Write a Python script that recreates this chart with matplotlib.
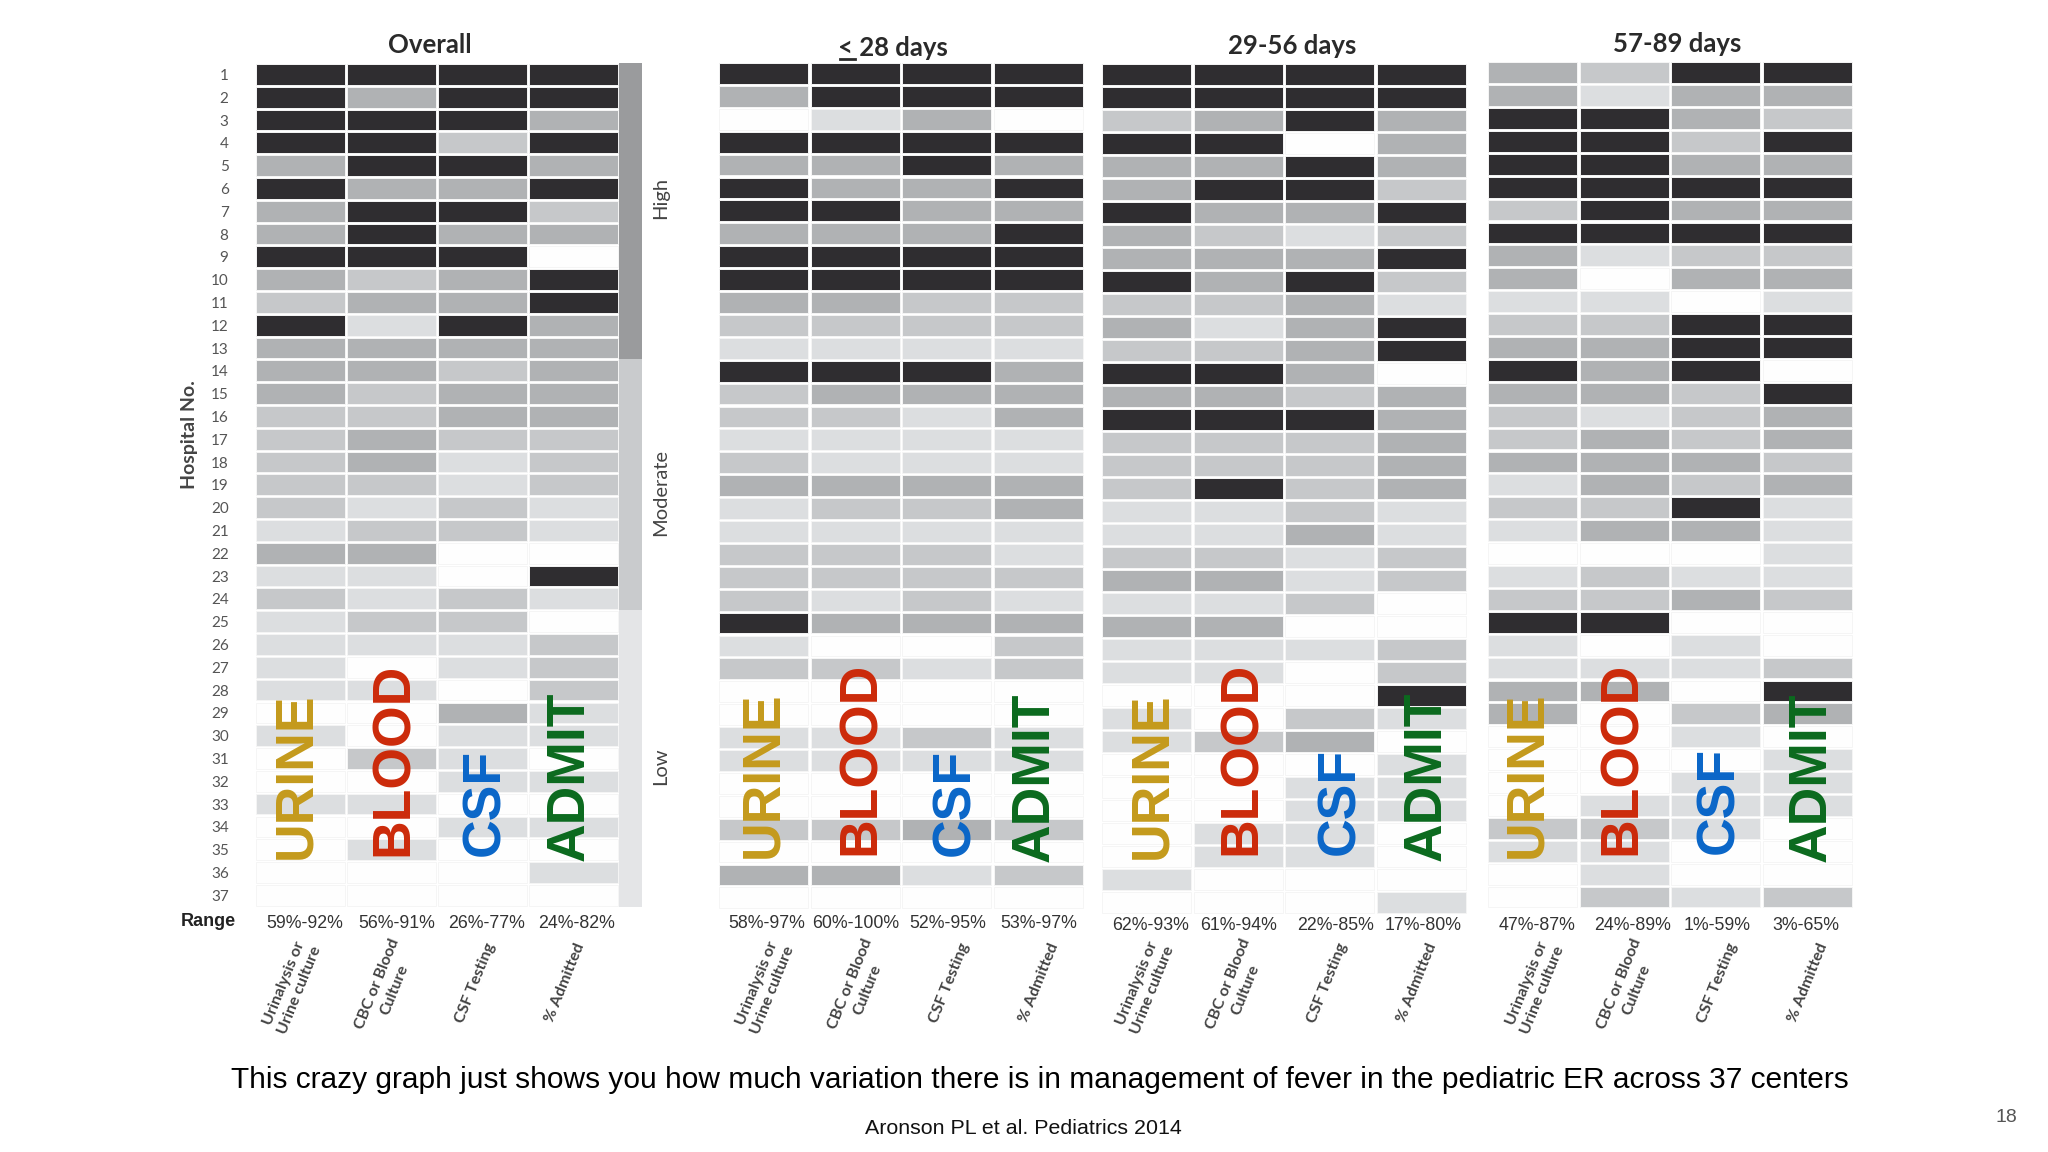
#Variation in fever management across 37 pediatric ERs - shaded tables
import numpy as np
import matplotlib.pyplot as plt
from matplotlib.lines import Line2D

W, H = 2048, 1152

hospitals = list(range(1, 38))
# shade level per hospital: urine, blood, csf, admit (0 = white ... 4 = near black)
overall = [[4,4,4,4],[4,3,4,4],[4,4,4,3],[4,4,2,4],[3,4,4,3],[4,3,3,4],[3,4,4,2],[3,4,3,3],[4,4,4,0],[3,2,3,4],
           [2,3,3,4],[4,1,4,3],[3,3,3,3],[3,3,2,3],[3,2,3,3],[2,2,3,3],[2,3,2,2],[2,3,1,2],[2,2,1,2],[2,1,2,1],
           [1,2,2,1],[3,3,0,0],[1,1,0,4],[2,1,2,1],[1,2,2,0],[1,1,1,2],[1,0,1,2],[1,1,0,2],[0,0,3,1],[1,0,1,1],
           [0,2,1,0],[0,0,1,1],[1,1,0,0],[0,0,1,1],[0,1,0,0],[0,0,0,1],[0,0,0,0]]
under_28 = [[4,4,4,4],[3,4,4,4],[0,1,3,0],[4,4,4,4],[3,3,4,3],[4,3,3,4],[4,4,3,3],[3,3,3,4],[4,4,4,4],[4,4,4,4],
            [3,3,2,2],[2,2,2,2],[1,1,1,1],[4,4,4,3],[2,3,3,3],[2,2,1,3],[1,1,1,1],[2,1,1,1],[3,3,3,3],[1,2,2,3],
            [1,1,1,1],[2,2,2,1],[2,2,2,2],[2,1,2,1],[4,3,3,3],[1,0,0,2],[2,2,1,2],[0,0,0,0],[0,0,0,0],[1,1,2,1],
            [1,1,1,1],[0,0,0,0],[0,0,0,0],[2,2,3,2],[0,0,0,0],[3,3,1,2],[0,0,0,0]]
days_29_56 = [[4,4,4,4],[4,4,4,4],[2,3,4,3],[4,4,0,3],[3,3,4,3],[3,4,4,2],[4,3,3,4],[3,2,1,2],[3,3,3,4],[4,3,4,2],
              [2,2,3,1],[3,1,3,4],[2,2,3,4],[4,4,3,0],[3,3,2,3],[4,4,4,3],[2,2,2,3],[2,2,2,3],[2,4,2,3],[1,1,2,1],
              [1,1,3,1],[2,2,1,2],[3,3,1,2],[1,1,2,0],[3,3,0,0],[1,1,1,2],[1,1,0,2],[0,0,0,4],[1,0,2,1],[1,2,3,0],
              [0,0,0,1],[0,0,1,1],[0,0,1,1],[0,1,1,0],[0,1,1,0],[1,0,0,0],[0,0,0,1]]
days_57_89 = [[3,2,4,4],[3,1,3,3],[4,4,3,2],[4,4,2,4],[4,4,3,3],[4,4,4,4],[2,4,3,3],[4,4,4,4],[3,1,2,2],[3,0,3,3],
              [1,1,0,1],[2,2,4,4],[3,3,4,4],[4,3,4,0],[3,3,2,4],[2,1,2,3],[2,3,2,3],[3,3,3,2],[1,3,2,3],[2,2,4,1],
              [1,3,3,1],[0,0,0,1],[1,2,1,1],[2,2,3,2],[4,4,0,0],[1,0,1,0],[1,1,1,2],[3,3,0,4],[3,0,2,3],[0,0,1,0],
              [0,0,0,1],[0,0,1,1],[0,1,1,1],[2,2,1,0],[1,1,0,0],[0,1,0,0],[0,2,1,2]]

titles = ['Overall', '< 28 days', '29-56 days', '57-89 days']
ranges_overall = ['59%-92%', '56%-91%', '26%-77%', '24%-82%']
ranges_28 = ['58%-97%', '60%-100%', '52%-95%', '53%-97%']
ranges_56 = ['62%-93%', '61%-94%', '22%-85%', '17%-80%']
ranges_89 = ['47%-87%', '24%-89%', '1%-59%', '3%-65%']
measures = ['Urinalysis or\nUrine culture', 'CBC or Blood\nCulture', 'CSF Testing', '% Admitted']
big_words = ['URINE', 'BLOOD', 'CSF', 'ADMIT']
tiers = ['High', 'Moderate', 'Low']
tier_counts = [13, 11, 13]

shades = ['#fefefe', '#dcdee0', '#c6c8ca', '#b0b2b4', '#2f2d30']
word_colors = ['#c49a1c', '#cc2a0a', '#0a66c8', '#0b6a1e']
tier_colors = ['#9a9b9d', '#c9cbcd', '#e4e5e7']

# panel boxes in pixels: left, right, top, bottom
boxes = [(255, 619, 63, 906.7), (718, 1084, 62, 909.3), (1101, 1467, 63.2, 914.2), (1487, 1853, 61.2, 908.5)]
title_pos = [(430, 45), (893, 48), (1292, 46), (1677, 44)]
range_y = [923, 924, 926, 925]
range_x = [[305, 397, 487, 577], [767, 856, 948, 1039], [1151, 1239, 1336, 1423], [1537, 1633, 1717, 1806]]
measure_x = [[292, 386, 475, 565], [765, 859, 949, 1039], [1145, 1237, 1327, 1417], [1535, 1628, 1717, 1808]]
measure_y = [987, 987, 983, 983]
word_x = [[296, 394, 485, 570], [763, 861, 955, 1035], [1152, 1242, 1340, 1427], [1527, 1622, 1719, 1812]]
word_y = [[859, 856, 856, 861], [858, 855, 856, 862], [859, 855, 855, 861], [858, 855, 854, 862]]


def fx(x):
    return x / W


def fy(y):
    return 1 - y / H


plt.rcParams['font.family'] = ['Lato', 'DejaVu Sans']
fig = plt.figure(figsize=(20.48, 11.52), dpi=100, facecolor='white')

panels = [overall, under_28, days_29_56, days_57_89]
range_sets = [ranges_overall, ranges_28, ranges_56, ranges_89]

for p, (levels, box) in enumerate(zip(panels, boxes)):
    left, right, top, bottom = box
    ax = fig.add_axes([fx(left), fy(bottom), fx(right - left), (bottom - top) / H])
    levels = np.array(levels)
    for c in range(4):
        cols = [shades[v] for v in levels[:, c]]
        ax.barh(np.array(hospitals) - 0.5, 0.97, left=c + 0.015, height=0.91, color=cols,
                edgecolor='#f5f5f5', linewidth=0.7)
    ax.set_xlim(0, 4)
    ax.set_ylim(37, 0)
    ax.set_xticks([])
    for s in ax.spines.values():
        s.set_visible(False)
    if p == 0:
        ax.set_yticks(np.array(hospitals) - 0.5)
        ax.set_yticklabels(hospitals, fontsize=11, color='#555555')
        ax.tick_params(axis='y', length=0, pad=19)
        # tier bar next to the overall panel
        start = 0
        for n, col in zip(tier_counts, tier_colors):
            ax.bar(4.13, n, bottom=start, width=0.255, color=col, clip_on=False)
            start += n
    else:
        ax.set_yticks([])

    fig.text(fx(title_pos[p][0]), fy(title_pos[p][1]), titles[p], fontsize=18.5, fontweight='bold',
             color='#2a2a2a', ha='center', va='center')
    for c in range(4):
        fig.text(fx(range_x[p][c]), fy(range_y[p]), range_sets[p][c], fontsize=12.8,
                 family=['Liberation Sans'], color='#333333', ha='center', va='center')
        fig.text(fx(measure_x[p][c]), fy(measure_y[c]), measures[c], fontsize=11.5, fontweight='bold',
                 color='#444444', rotation=68, ha='center', va='center', linespacing=1.35)
        fig.text(fx(word_x[p][c]), fy(word_y[p][c]), big_words[c], fontsize=38.5, fontweight='bold',
                 family=['Liberation Sans'], color=word_colors[c], rotation=90, ha='center', va='bottom',
                 zorder=5)

# underline of the "<" in the second title
fig.add_artist(Line2D([fx(840), fx(855)], [fy(59), fy(59)], color='#2a2a2a', lw=2))

for name, y in zip(tiers, [198, 493, 766]):
    fig.text(fx(661), fy(y), name, fontsize=14.5, color='#444444', rotation=90, ha='center', va='center')

fig.text(fx(190), fy(435), 'Hospital No.', fontsize=14, fontweight='bold', color='#444444',
         rotation=90, ha='center', va='center')
fig.text(fx(208), fy(921), 'Range', fontsize=13, fontweight='bold', family=['Liberation Sans'],
         color='#222222', ha='center', va='center')
fig.text(fx(1040), fy(1080), 'This crazy graph just shows you how much variation there is in management of fever '
         'in the pediatric ER across 37 centers', fontsize=21.5, family=['Liberation Sans'], color='black',
         ha='center', va='center')
fig.text(fx(1023), fy(1128), 'Aronson PL et al. Pediatrics 2014', fontsize=15.4, family=['Liberation Sans'],
         color='#111111', ha='center', va='center')
fig.text(fx(2006), fy(1117), '18', fontsize=14, family=['Liberation Sans'], color='#555555',
         ha='center', va='center')

fig.savefig('out.png', dpi=100)
